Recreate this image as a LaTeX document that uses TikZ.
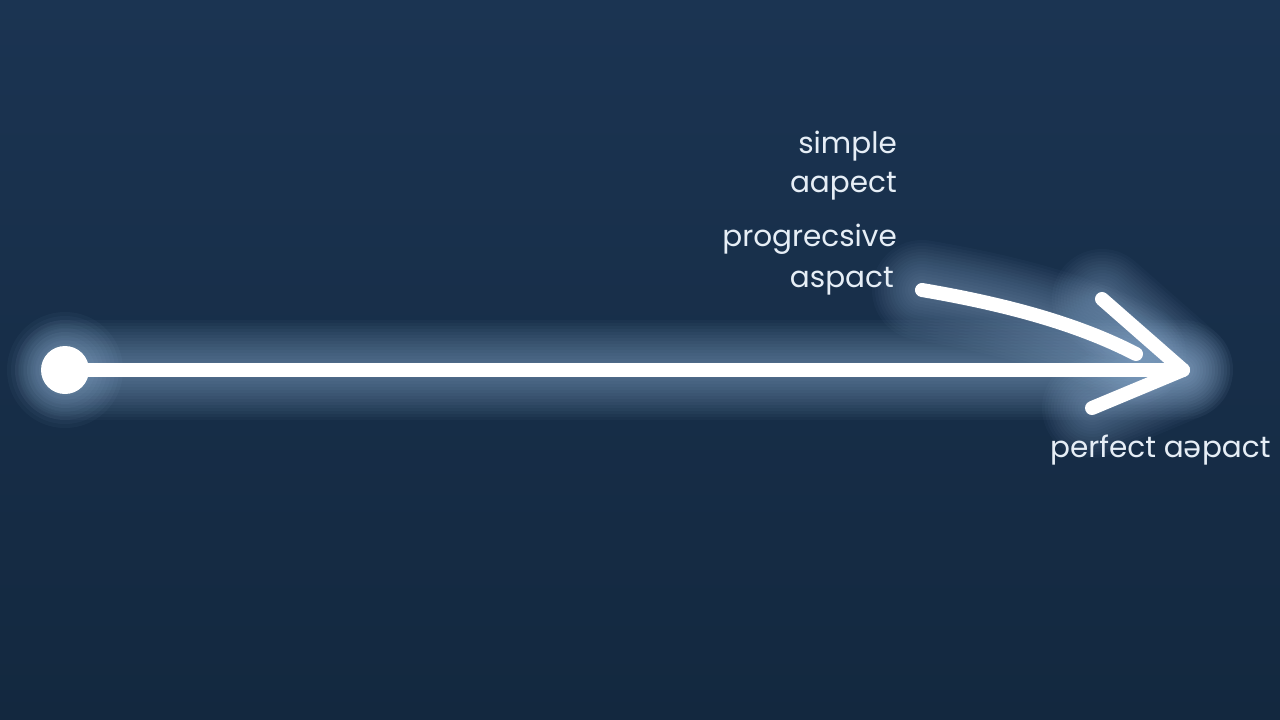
\documentclass[tikz,border=0pt]{standalone}
\usepackage{fontspec}
\setmainfont{Poppins}
\newfontfamily\altfont{DejaVu Sans}
\usetikzlibrary{calc}
\definecolor{bgtop}{HTML}{1B3452}
\definecolor{bgbot}{HTML}{13283F}
\definecolor{glowc}{HTML}{A8CBEF}
\definecolor{txt}{HTML}{E6EEF6}
\tikzset{
  lbl/.style={text=txt, font=\fontsize{29.5}{34}\selectfont, inner sep=0pt, anchor=base east},
  beam/.style={draw=white, line width=14pt, line cap=round, line join=round},
}
\begin{document}
\begin{tikzpicture}[x=1pt,y=-1pt]
\useasboundingbox (0,0) rectangle (1280,720);
\shade[top color=bgtop, bottom color=bgbot] (0,0) rectangle (1280,720);
% coordinates
\coordinate (s) at (65,370);
\coordinate (tip) at (1183,370);
\coordinate (ua) at (1102,299);
\coordinate (la) at (1092,408);
\coordinate (cs) at (922,290);
\coordinate (ce) at (1136,354);
% glow
\foreach \w in {16,22,...,100}{
  \draw[glowc, line width=\w pt, line cap=round, opacity=0.035] (s) -- (tip);
  \draw[glowc, line width=\w pt, line cap=round, opacity=0.03] (cs) .. controls (1010,305) and (1080,325) .. (ce);
  \draw[glowc, line width=\w pt, line cap=round, line join=round, opacity=0.03] (ua) -- (tip) -- (la);
}
\foreach \r in {26,30,...,58}{
  \fill[glowc, opacity=0.04] (s) circle (\r);
}
% line and dot
\node[circle, fill=white, minimum size=48pt, inner sep=0pt] (start) at (s) {};
\draw[beam] (start.center) -- (tip);
\draw[beam] (cs) .. controls (1010,305) and (1080,325) .. (ce);
\draw[beam] (ua) -- (tip) -- (la);
% labels
\node[lbl] (t1) at (897,153) {simple};
\node[lbl] (t2) at (897,192) {aapect};
\node[lbl] (t3) at (897,246) {progrecsive};
\node[lbl] (t4) at (894,287) {aspact};
\node[lbl, anchor=base west] (t5) at (1050,457) {perfect a{\altfont ə}pact};
\end{tikzpicture}
\end{document}
